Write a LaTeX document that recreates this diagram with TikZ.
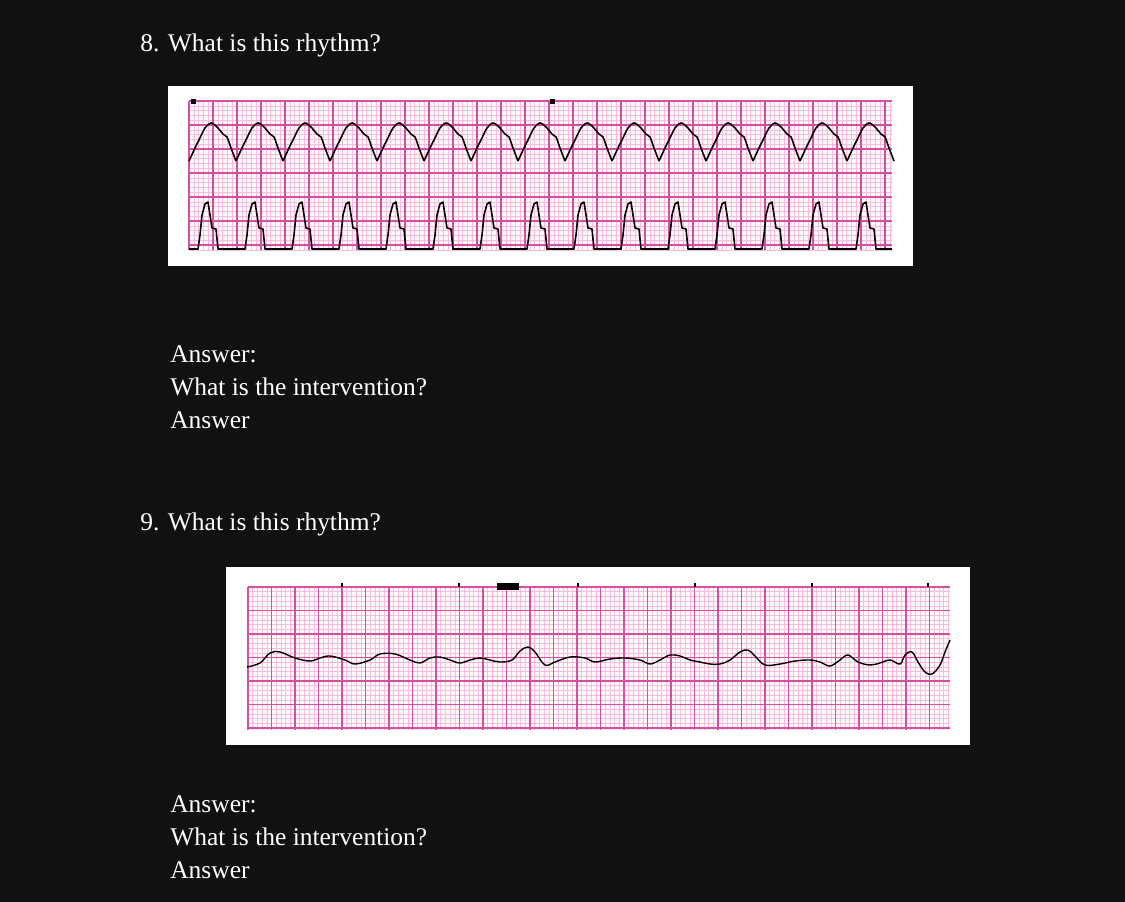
\documentclass[tikz,border=0pt]{standalone}
\usepackage{fontspec}
\setmainfont{Liberation Serif}
\begin{document}
\begin{tikzpicture}[x=0.02cm,y=-0.02cm,
  txt/.style={anchor=base west,inner sep=0,text=white,font=\fontsize{14.5}{17}\selectfont},
  minor/.style={draw={rgb,255:red,246;green,190;blue,220},line width=0.25pt},
  major/.style={draw={rgb,255:red,214;green,80;blue,160},line width=0.6pt},
  trace/.style={line width=0.9pt,black,line join=round}]
\fill[fill={rgb,255:red,17;green,17;blue,17}] (0,0) rectangle (1125,902);
\useasboundingbox (0,0) rectangle (1125,902);
\node[txt] (q8) at (140,52) {8. What is this rhythm?};
\node[txt] (a8a) at (170,362) {Answer:};
\node[txt] (a8b) at (170,395) {What is the intervention?};
\node[txt] (a8c) at (170,428) {Answer};
\node[txt] (q9) at (140,530) {9. What is this rhythm?};
\node[txt] (a9a) at (170,812) {Answer:};
\node[txt] (a9b) at (170,845) {What is the intervention?};
\node[txt] (a9c) at (170,878) {Answer};
% strip 1
\fill[white] (168,86) rectangle (913,266);
\fill[white!90!pink] (189,101) rectangle (892,250);
\foreach \i in {0,...,146}{\pgfmathsetmacro\xx{189+\i*4.8}\draw[minor] (\xx,101)--(\xx,250);}
\foreach \i in {0,...,31}{\pgfmathsetmacro\yy{101+\i*4.8}\draw[minor] (189,\yy)--(892,\yy);}
\foreach \i in {0,...,29}{\pgfmathsetmacro\xx{189+\i*24}\draw[major] (\xx,101)--(\xx,250);}
\foreach \i in {0,...,6}{\pgfmathsetmacro\yy{101+\i*24}\draw[major] (189,\yy)--(892,\yy);}
\fill[black] (191,99) rectangle (196,104);
\fill[black] (550,99) rectangle (555,104);
\foreach \k in {0,...,14}{
  \pgfmathsetmacro\a{189+\k*47}
  \draw[trace] plot[smooth,tension=0.5] coordinates {(\a,161) ({\a+6},148) ({\a+10},140) ({\a+16},128) ({\a+22},123) ({\a+28},127) ({\a+34},134) ({\a+38},137) ({\a+42},148) ({\a+47},161)};
  \draw[trace] (\a,249) -- ({\a+9},249) -- ({\a+11},235) -- ({\a+13},215) -- ({\a+16},204) -- ({\a+19},202) -- ({\a+21},215) -- ({\a+23},228) -- ({\a+27},229) -- ({\a+29},249) -- ({min(\a+47,892)},249);
}
% strip 2
\fill[white] (226,567) rectangle (970,745);
\fill[white!90!pink] (248,587) rectangle (950,730);
\foreach \i in {0,...,149}{\pgfmathsetmacro\xx{248+\i*4.7}\draw[minor] (\xx,587)--(\xx,730);}
\foreach \i in {0,...,30}{\pgfmathsetmacro\yy{587+\i*4.7}\draw[minor] (248,\yy)--(950,\yy);}
\foreach \i in {0,...,29}{\pgfmathsetmacro\xx{248+\i*23.5}\draw[major] (\xx,587)--(\xx,730);}
\foreach \i in {0,...,6}{\pgfmathsetmacro\yy{587+\i*23.5}\draw[major] (248,\yy)--(950,\yy);}
\fill[black] (497,583) rectangle (519,590);
\foreach \xx in {342,459,578,695,812,928}{\draw[black,line width=0.6pt] (\xx,583)--(\xx,587);}
\draw[trace,line width=0.8pt] plot[smooth,tension=0.6] coordinates {(247,667)(260,663)(270,653)(280,652)(295,658)(310,661)(320,658)(330,656)(345,660)(355,664)(370,660)(380,654)(395,654)(410,660)(420,663)(430,658)(440,657)(450,660)(460,663)(470,660)(480,658)(490,660)(500,662)(512,660)(520,651)(528,647)(535,652)(545,665)(555,662)(570,657)(585,658)(595,662)(610,659)(625,658)(640,660)(650,664)(660,660)(670,655)(680,656)(690,660)(700,662)(710,664)(720,664)(730,660)(740,652)(748,650)(755,656)(765,665)(780,664)(795,661)(810,660)(820,662)(830,666)(840,660)(848,655)(858,662)(870,665)(880,663)(890,660)(900,664)(905,655)(912,652)(918,662)(925,672)(932,674)(940,665)(945,652)(950,640)};
\end{tikzpicture}
\end{document}
